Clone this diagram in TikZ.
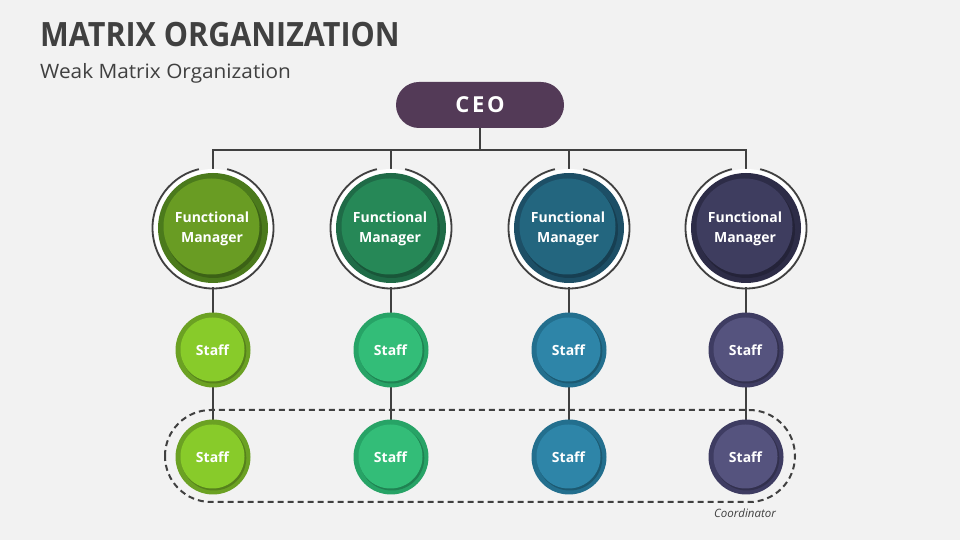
\documentclass[tikz,border=0pt]{standalone}
\usepackage{fontspec}
\setmainfont{Open Sans}
\pgfdeclarelayer{bg}\pgfdeclarelayer{lines}
\pgfsetlayers{bg,lines,main}
\definecolor{bgc}{HTML}{F2F2F2}
\definecolor{ink}{HTML}{404040}
\definecolor{ceoc}{HTML}{533A57}
\definecolor{fd1}{HTML}{4B7A1C}\definecolor{fl1}{HTML}{699C23}\definecolor{sd1}{HTML}{6BA123}\definecolor{sl1}{HTML}{88CB2A}
\definecolor{fd2}{HTML}{1F6B47}\definecolor{fl2}{HTML}{268857}\definecolor{sd2}{HTML}{27A366}\definecolor{sl2}{HTML}{33BD78}
\definecolor{fd3}{HTML}{1D4F66}\definecolor{fl3}{HTML}{23667F}\definecolor{sd3}{HTML}{236F8E}\definecolor{sl3}{HTML}{2E85A8}
\definecolor{fd4}{HTML}{2D2C47}\definecolor{fl4}{HTML}{3E3D5F}\definecolor{sd4}{HTML}{3E3C62}\definecolor{sl4}{HTML}{55537E}
\begin{document}
\begin{tikzpicture}[x=1pt,y=1pt,
  conn/.style={draw=ink,line width=1.8pt},
  fmbox/.style={circle,inner sep=0pt,minimum size=110pt,fill=#1},
  stbox/.style={circle,inner sep=0pt,minimum size=75pt,fill=#1},
  lbl/.style={text=white,font=\fontsize{14}{20}\selectfont\bfseries,align=center,inner sep=0pt},
  ring/.style={draw=ink,line width=1.8pt}]
\useasboundingbox (0,0) rectangle (960,540);
\begin{pgfonlayer}{bg}
\fill[bgc] (0,0) rectangle (960,540);
\end{pgfonlayer}
\node[anchor=base west,inner sep=0pt,text=ink,font=\fontsize{33.5}{36}\selectfont\bfseries\addfontfeatures{FakeStretch=0.91}] (title) at (40,493) {MATRIX ORGANIZATION};
\node[anchor=base west,inner sep=0pt,text=ink,font=\fontsize{19.8}{22}\selectfont\addfontfeatures{FakeStretch=1.05}] (sub) at (40,461) {Weak Matrix Organization};
\node[fill=ceoc,rounded corners=23pt,minimum width=168pt,minimum height=46pt,inner sep=0pt,text=white,font=\fontsize{22}{24}\selectfont\bfseries\addfontfeatures{LetterSpace=12}] (ceo) at (480,435) {CEO};
\coordinate (hub) at (480,390);
\foreach \i/\x in {1/213,2/391,3/569,4/746}{
  \fill[white] (\x,312) circle (59);
  \draw[ring] (\x,312) ++(103.5:60.5) arc[start angle=103.5,end angle=436.5,radius=60.5];
  \node[fmbox=fd\i] (fm\i) at (\x,312) {};
  \fill[fd\i!80!black] (\x+0.5,310.5) circle (48.5);
  \fill[fl\i] (\x-1.5,313.5) circle (48);
  \node[lbl] (fmt\i) at (\x-1,311.5) {Functional\\Manager};
  \foreach \j/\y in {1/190,2/83}{
    \node[stbox=sd\i] (s\i\j) at (\x,\y) {};
    \fill[sd\i!80!black] (\x+0.8,\y-1) circle (32.5);
    \fill[sl\i] (\x-0.5,\y+0.5) circle (32);
    \node[lbl] (st\i\j) at (\x-0.5,\y-0.5) {Staff};
  }
  \begin{pgfonlayer}{lines}
  \draw[conn] (fm\i.center) -- (s\i1.center) -- (s\i2.center);
  \end{pgfonlayer}
}
\begin{pgfonlayer}{lines}
\draw[conn] (ceo.south) -- (hub);
\draw[conn] (fm1.center) |- (hub) -| (fm4.center);
\draw[conn] (fm2.center) -- (fm2.center |- hub);
\draw[conn] (fm3.center) -- (fm3.center |- hub);
\end{pgfonlayer}
\draw[draw=ink,line width=2pt,dash pattern=on 6pt off 4pt,rounded corners=46pt] (165,38) rectangle (795,130);
\node[anchor=base,inner sep=0pt,text=ink,font=\fontsize{11.5}{13}\selectfont\itshape] (coord) at (745,22) {Coordinator};
\end{tikzpicture}
\end{document}
